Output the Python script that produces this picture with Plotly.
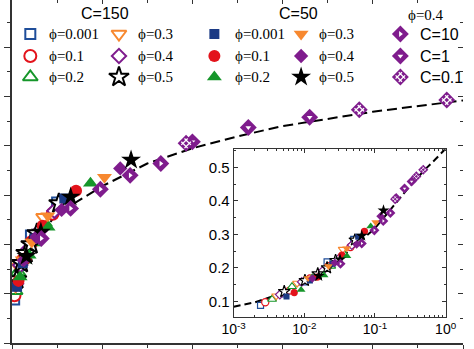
import plotly.graph_objects as go

# ---------------------------------------------------------------- data
phi_labels = ["ϕ=0.001", "ϕ=0.1", "ϕ=0.2", "ϕ=0.3", "ϕ=0.4", "ϕ=0.5"]

# C = 150 (open symbols), one list per volume fraction
c150_x = [
    [0.0024, 0.0050, 0.0098, 0.0210, 0.0500],
    [0.0028, 0.0062, 0.0120, 0.0220, 0.0450],
    [0.0035, 0.0067, 0.0130, 0.0240, 0.0360],
    [0.0040, 0.0079, 0.0160, 0.0290, 0.0350],
    [0.0045, 0.0092, 0.0180, 0.0310, 0.0470],
    [0.0052, 0.0102, 0.0155, 0.0210, 0.0277, 0.0520],
]
c150_y = [
    [0.088, 0.122, 0.158, 0.218, 0.285],
    [0.097, 0.132, 0.168, 0.205, 0.262],
    [0.106, 0.144, 0.170, 0.205, 0.243],
    [0.116, 0.154, 0.180, 0.222, 0.255],
    [0.120, 0.158, 0.190, 0.228, 0.268],
    [0.129, 0.162, 0.182, 0.200, 0.222, 0.283],
]

# C = 50 (filled symbols)
c50_x = [
    [0.0056, 0.0120, 0.0250, 0.0580],
    [0.0072, 0.0152, 0.0340, 0.0710],
    [0.0090, 0.0190, 0.0400, 0.0870],
    [0.0113, 0.0220, 0.0398, 0.1025],
    [0.0130, 0.0270, 0.0550, 0.1200],
    [0.0160, 0.0320, 0.0650, 0.1320],
]
c50_y = [
    [0.114, 0.162, 0.212, 0.293],
    [0.126, 0.172, 0.238, 0.309],
    [0.134, 0.178, 0.235, 0.324],
    [0.169, 0.205, 0.258, 0.336],
    [0.168, 0.215, 0.270, 0.354],
    [0.176, 0.225, 0.296, 0.371],
]

# phi = 0.4 at lower concentrations
phi04_header = "ϕ=0.4"
c_labels = ["C=10", "C=1", "C=0.1"]
phi04_x = [
    [0.0325, 0.065, 0.098, 0.131, 0.165],
    [0.200, 0.262, 0.330],
    [0.193, 0.385, 0.482],
]
phi04_y = [
    [0.212, 0.273, 0.312, 0.340, 0.364],
    [0.408, 0.437, 0.458],
    [0.405, 0.473, 0.493],
]

# master curve (dashed)
fit_x = [0.001, 0.002, 0.005, 0.01, 0.02, 0.05, 0.1, 0.15, 0.2, 0.25, 0.3, 0.4, 0.5, 0.7, 1.0]
fit_y = [0.084, 0.097, 0.125, 0.158, 0.195, 0.262, 0.318, 0.364, 0.395, 0.419, 0.440, 0.469, 0.492, 0.522, 0.556]

inset_xtick_vals = [0.001, 0.01, 0.1, 1]
inset_xtick_text = ["10<sup>-3</sup>", "10<sup>-2</sup>", "10<sup>-1</sup>", "10<sup>0</sup>"]

# ---------------------------------------------------------------- styles
BLUE, NAVY, RED, GREEN = "#1F4E9A", "#1B3A85", "#E3131B", "#16962A"
ORANGE, PURPLE, BLACK, WHITE = "#F7882F", "#7F1C8D", "#000000", "#FFFFFF"
CLEAR = "rgba(0,0,0,0)"
SERIF = "Liberation Serif, Times New Roman, serif"
SANS = "Liberation Sans, Arial, sans-serif"
AXC = "#333333"

shapes = ["square", "circle", "triangle-up", "triangle-down", "diamond", "star"]
base_size = {"square": 10, "circle": 12, "triangle-up": 13, "triangle-down": 13,
             "diamond": 11, "star": 15}
open_cols = [BLUE, RED, GREEN, ORANGE, PURPLE, BLACK]
fill_cols = [NAVY, RED, GREEN, ORANGE, PURPLE, BLACK]


def open_style(i):
    s = shapes[i]
    return [dict(symbol=s, size=base_size[s], fill=WHITE, edge=open_cols[i], lw=2)]


def fill_style(i):
    s = shapes[i]
    return [dict(symbol=s, size=base_size[s], fill=fill_cols[i], edge=fill_cols[i], lw=0)]


# half-open and hatched diamonds for the phi = 0.4 dilution series
phi04_styles = [
    [dict(symbol="diamond", size=13, fill=PURPLE, edge=PURPLE, lw=0),
     dict(symbol="triangle-right", size=5, fill=WHITE, edge=WHITE, lw=0)],
    [dict(symbol="diamond", size=13, fill=PURPLE, edge=PURPLE, lw=0),
     dict(symbol="triangle-down", size=5, fill=WHITE, edge=WHITE, lw=0)],
    [dict(symbol="diamond", size=13, fill=PURPLE, edge=PURPLE, lw=0),
     dict(symbol="hash-open", size=9, fill=WHITE, edge=WHITE, lw=1.3, angle=45)],
]

fig = go.Figure()


def add_marks(xs, ys, layers, xa, ya, scale=1.0, lscale=1.0):
    for L in layers:
        fig.add_trace(go.Scatter(
            x=xs, y=ys, mode="markers", xaxis=xa, yaxis=ya,
            showlegend=False, hoverinfo="skip",
            marker=dict(symbol=L["symbol"], size=L["size"] * scale, color=L["fill"],
                        angle=L.get("angle", 0),
                        line=dict(color=L["edge"], width=L["lw"] * lscale)),
        ))


# ---------------------------------------------------------------- main panel
fig.add_trace(go.Scatter(x=fit_x, y=fit_y, mode="lines", xaxis="x", yaxis="y",
                         line=dict(color=BLACK, width=2, dash="10px,5px"),
                         showlegend=False, hoverinfo="skip"))
for i in range(6):
    add_marks(c150_x[i], c150_y[i], open_style(i), "x", "y")
for i in range(6):
    add_marks(c50_x[i], c50_y[i], fill_style(i), "x", "y")
for k in range(3):
    add_marks(phi04_x[k], phi04_y[k], phi04_styles[k], "x", "y")

# mirrored tick marks on top / right
fig.add_trace(go.Scatter(x=[], y=[], xaxis="x2", yaxis="y2", showlegend=False))

# ---------------------------------------------------------------- inset
fig.add_trace(go.Scatter(x=fit_x, y=fit_y, mode="lines", xaxis="x3", yaxis="y3",
                         line=dict(color=BLACK, width=2, dash="7px,4px"),
                         showlegend=False, hoverinfo="skip"))
IS, IL = 0.6, 0.6
for i in range(6):
    add_marks(c150_x[i], c150_y[i], open_style(i), "x3", "y3", IS, IL)
for i in range(6):
    add_marks(c50_x[i], c50_y[i], fill_style(i), "x3", "y3", IS, IL)
for k in range(3):
    add_marks(phi04_x[k], phi04_y[k], phi04_styles[k], "x3", "y3", IS, IL)

# ---------------------------------------------------------------- key
key_cols = [(25, 42), (117, 135), (216, 235), (306, 323), (409, 427)]
key_rows = [34, 56, 77]
annotations = []


def key_entry(col, row, layers, text, font):
    mx, tx = key_cols[col]
    yy = key_rows[row]
    add_marks([mx], [yy], layers, "x4", "y4")
    annotations.append(dict(x=tx, y=yy, xref="x4", yref="y4", text=text, showarrow=False,
                            xanchor="left", yanchor="middle", font=font))


serif_font = dict(family=SERIF, size=15, color=BLACK)
sans_font = dict(family=SANS, size=16, color=BLACK)
for i in range(6):
    key_entry(i // 3, i % 3, open_style(i), phi_labels[i], serif_font)
    key_entry(2 + i // 3, i % 3, fill_style(i), phi_labels[i], serif_font)
for k in range(3):
    key_entry(4, k, phi04_styles[k], c_labels[k], sans_font)

for text, x, y, font in [("C=150", 102, 13, sans_font), ("C=50", 303, 13, sans_font),
                         (phi04_header, 436, 15, serif_font)]:
    annotations.append(dict(x=x, y=y, xref="x4", yref="y4", text=text, showarrow=False,
                            xanchor="center", yanchor="middle", font=font))

# ---------------------------------------------------------------- layout
main_ax = dict(showgrid=False, zeroline=False, showticklabels=False,
               tickcolor=AXC, tickwidth=1.3, linecolor=AXC)
minor_out = dict(ticks="outside", ticklen=3, tickwidth=1.3, tickcolor=AXC, showgrid=False)
minor_in = dict(ticks="inside", ticklen=3, tickwidth=1.3, tickcolor=AXC, showgrid=False)

inset_minor_x = [k * 10.0 ** e for e in (-3, -2, -1) for k in range(2, 10)]

fig.update_layout(
    width=474, height=349,
    margin=dict(l=6, r=0, t=0, b=6),
    paper_bgcolor=WHITE, plot_bgcolor=CLEAR,
    showlegend=False,
    xaxis=dict(main_ax, domain=[0, 1], range=[0, 0.5], tick0=0, dtick=0.1,
               ticks="outside", ticklen=6, showline=True, linewidth=1.5,
               minor=dict(minor_out, dtick=0.05), anchor="y"),
    yaxis=dict(main_ax, domain=[0, 1], range=[0, 0.6957], tick0=0, dtick=0.1,
               ticks="outside", ticklen=6, showline=True, linewidth=1.5,
               minor=dict(minor_out, dtick=0.05), anchor="x"),
    xaxis2=dict(main_ax, overlaying="x", side="top", anchor="y2", range=[0, 0.5],
                tick0=0, dtick=0.1, ticks="inside", ticklen=4, showline=False,
                minor=dict(minor_in, dtick=0.05)),
    yaxis2=dict(main_ax, overlaying="y", side="right", anchor="x2", range=[0, 0.6957],
                tick0=0, dtick=0.1, ticks="inside", ticklen=5, showline=False,
                minor=dict(minor_in, dtick=0.05)),
    xaxis3=dict(type="log", range=[-3, 0], domain=[0.4915, 0.9615], anchor="y3",
                showgrid=False, zeroline=False, showline=True, linewidth=1, linecolor=AXC,
                mirror="ticks", ticks="inside", ticklen=4, tickwidth=1, tickcolor=AXC,
                tickmode="array", tickvals=inset_xtick_vals, ticktext=inset_xtick_text,
                tickfont=dict(family=SANS, size=14, color=BLACK),
                minor=dict(tickmode="array", tickvals=inset_minor_x, ticks="inside",
                           ticklen=2, tickwidth=1, tickcolor=AXC, showgrid=False)),
    yaxis3=dict(range=[0.054, 0.554], domain=[0.0767, 0.5647], anchor="x3",
                showgrid=False, zeroline=False, showline=True, linewidth=1, linecolor=AXC,
                mirror="ticks", ticks="inside", ticklen=4, tickwidth=1, tickcolor=AXC,
                tick0=0, dtick=0.1, tickfont=dict(family=SANS, size=15, color=BLACK),
                minor=dict(dtick=0.05, ticks="inside", ticklen=2, tickwidth=1,
                           tickcolor=AXC, showgrid=False)),
    xaxis4=dict(domain=[0, 1], range=[6, 474], anchor="y4", visible=False, fixedrange=True),
    yaxis4=dict(domain=[0, 1], range=[343, 0], anchor="x4", visible=False, fixedrange=True),
    annotations=annotations,
)

fig.write_html("out.html")
